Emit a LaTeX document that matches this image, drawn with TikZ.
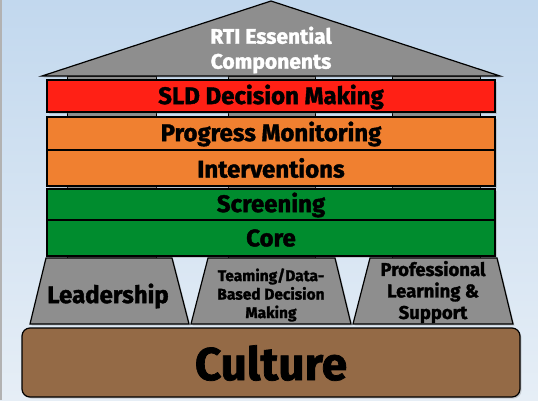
\documentclass[tikz,border=0pt]{standalone}
\usepackage{fontspec}
\setmainfont{Fira Sans}[BoldFeatures={FakeBold=1.6}]
\usetikzlibrary{shadows}
\definecolor{bgtop}{HTML}{C2D8EE}
\definecolor{bgbot}{HTML}{E6EEF6}
\definecolor{roofgrey}{HTML}{8E8E8E}
\definecolor{sldred}{HTML}{FF2015}
\definecolor{pmorange}{HTML}{F08030}
\definecolor{scgreen}{HTML}{008C2E}
\definecolor{culbrown}{HTML}{946A46}
\tikzset{
  band/.style={draw=black, line width=1.2pt, drop shadow={opacity=0.3,shadow xshift=1.5pt,shadow yshift=-1.5pt}},
  lbl/.style={font=\bfseries, text=black, align=center},
  col/.style={draw=black, line width=0.8pt, fill=roofgrey},
}
\begin{document}
\begin{tikzpicture}[x=1pt,y=-1pt]
\useasboundingbox (0,0) rectangle (538,400);
\shade[top color=bgtop, bottom color=bgbot] (0,0) rectangle (538,400);
\fill[gray!60] (0,0) rectangle (2,400);
% hidden pillars
\draw[col] (67,76) rectangle (156,258);
\draw[col] (228,76) rectangle (315,258);
\draw[col] (392,76) rectangle (480,258);
% roof
\draw[band, fill=roofgrey] (42,76) -- (271,1) -- (500,76) -- cycle;
\node[lbl, text=white, font=\bfseries\fontsize{21}{25}\selectfont] (roof) at (271,50) {RTI Essential\\Components};
% bands
\draw[band, fill=sldred] (47,80) rectangle (495,112);
\node[lbl, font=\bfseries\fontsize{24}{26}\selectfont] (sld) at (271,97) {SLD Decision Making};
\draw[band, fill=pmorange] (47,117) rectangle (495,150);
\node[lbl, font=\bfseries\fontsize{24}{26}\selectfont] (pm) at (271,134) {Progress Monitoring};
\draw[band, fill=pmorange] (47,150) rectangle (495,186);
\node[lbl, font=\bfseries\fontsize{24}{26}\selectfont] (int) at (271,168) {Interventions};
\draw[band, fill=scgreen] (47,189) rectangle (495,220);
\node[lbl, font=\bfseries\fontsize{24}{26}\selectfont] (scr) at (271,205) {Screening};
\draw[band, fill=scgreen] (47,220) rectangle (495,256);
\node[lbl, font=\bfseries\fontsize{24}{26}\selectfont] (core) at (271,238) {Core};
% trapezoids
\draw[band, fill=roofgrey] (46,258) -- (172,258) -- (189,324) -- (30,324) -- cycle;
\node[lbl, font=\bfseries\fontsize{24}{26}\selectfont] (lead) at (108,296) {Leadership};
\draw[band, fill=roofgrey] (208,258) -- (335,258) -- (351,324) -- (191,324) -- cycle;
\node[lbl, font=\bfseries\fontsize{15.5}{18.5}\selectfont] (team) at (271,295) {Teaming/Data-\\Based Decision\\Making};
\draw[band, fill=roofgrey] (370,258) -- (497,258) -- (513,324) -- (353,324) -- cycle;
\node[lbl, font=\bfseries\fontsize{18.5}{21.5}\selectfont] (prof) at (433,292) {Professional\\Learning \&\\Support};
% culture
\draw[band, fill=culbrown, rounded corners=8pt] (22,397) -- (22,328) -- (520,328) -- (520,397) -- cycle;
\node[lbl, font=\bfseries\fontsize{46}{48}\selectfont] (cul) at (271,363) {Culture};
\end{tikzpicture}
\end{document}
